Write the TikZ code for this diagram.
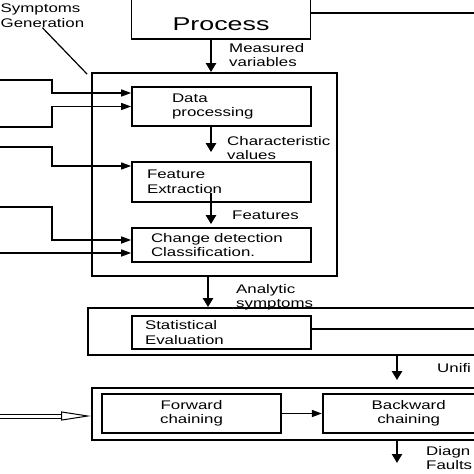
\documentclass[tikz,border=0pt]{standalone}
\usepackage{fontspec}
\setmainfont{Liberation Sans}[FakeStretch=1.35]
\newfontfamily\bigfont{Liberation Sans}[FakeStretch=1.45]
\usetikzlibrary{arrows.meta,positioning}

\begin{document}
\begin{tikzpicture}[x=1pt,y=-1pt]
% STYLES
\tikzset{
    blk/.style={rectangle, draw, line width=1.7pt, align=left, inner ysep=0pt,
    font=\fontsize{12.5}{14.5}\selectfont},
    outerbox/.style={rectangle, draw, line width=1.8pt, inner sep=0pt},
    lbl/.style={anchor=north west, align=left, inner sep=0pt,
    font=\fontsize{12.5}{14.5}\selectfont},
    flow/.style={->, line width=2.4pt, >={Triangle[length=9pt,width=10pt]}},
    inp/.style={->, line width=1.5pt, >={Triangle[length=10pt,width=7pt]}}
}
\useasboundingbox (0,0) rectangle (474,474);

% boxes
\node[blk, anchor=south, align=center, minimum width=179pt, text height=52pt,
  text depth=4pt, inner ysep=5pt, font=\bigfont\fontsize{18.5}{20}\selectfont] (proc) at (221,40) {Process};
\node[outerbox, minimum width=245pt, minimum height=203pt] (gen) at (214.5,174.5) {};
\node[blk, minimum width=179pt, minimum height=39pt, text width=99pt, inner xsep=40pt] (data) at (221.5,106.5) {Data\\processing};
\node[blk, minimum width=179pt, minimum height=40pt, text width=149pt, inner xsep=15pt] (feat) at (221.5,182) {Feature\\Extraction};
\node[blk, minimum width=179pt, minimum height=34pt, text width=141pt, inner xsep=19pt] (change) at (221.5,245) {Change detection\\Classification.};

\node[outerbox, minimum width=412pt, minimum height=47pt] (statf) at (294,331.5) {};
\node[blk, minimum width=179pt, minimum height=33pt, text width=153pt, inner xsep=13pt] (stat) at (221.5,332.5) {Statistical\\Evaluation};

\node[outerbox, minimum width=408pt, minimum height=52pt] (reason) at (296,414) {};
\node[blk, align=center, minimum width=179pt, minimum height=39pt] (fwd) at (191.5,413.5) {Forward\\chaining};
\node[blk, align=center, minimum width=172pt, minimum height=39pt, right=40pt of fwd] (bwd) {Backward\\chaining};

% labels
\node[lbl] (symg) at (0.5,4) {Symptoms\\Generation};
\node[lbl] (meas) at (229,43) {Measured\\variables};
\node[lbl] (charv) at (227,136) {Characteristic\\values};
\node[lbl] (featl) at (232,211) {Features};
\node[lbl] (anal) at (236,284) {Analytic\\symptoms};
\node[lbl] (unif) at (437,363) {Unifi};
\node[lbl] (diag) at (426,446) {Diagn\\Faults};

% free ends
\coordinate (ax) at (211,0);
\coordinate (ax2) at (208,0);
\coordinate (ax3) at (397,0);
\coordinate (out) at (397,463);
\coordinate (topr) at (474,13);
\coordinate (statr) at (474,329);
\coordinate (in1) at (0,80);
\coordinate (in2) at (0,127);
\coordinate (in3) at (0,147);
\coordinate (in4) at (0,207);
\coordinate (in5) at (0,253);
\coordinate (dbl) at (0,416);

% Draw the links between
\draw[flow] (proc.south -| ax) -- (gen.north -| ax);
\draw[flow, shorten >=9pt] (data.south -| ax) -- (feat.north -| ax);
\draw[flow, shorten <=-10pt, shorten >=3pt] (feat.south -| ax) -- (change.north -| ax);
\draw[flow] (gen.south -| ax2) -- (statf.north -| ax2);
\draw[flow, shorten >=7pt] (statf.south -| ax3) -- (reason.north -| ax3);
\draw[flow] (reason.south -| ax3) -- (out);

\draw[inp] (in1) -- ++(52,0) |- ([yshift=13.5pt]data.west);
\draw[inp] (in2) -- ++(52,0) |- (data.west);
\draw[inp] (in3) -- ++(52,0) |- ([yshift=16pt]feat.west);
\draw[inp] (in4) -- ++(52,0) |- ([yshift=5pt]change.west);
\draw[inp] (in5) -- ([yshift=-8pt]change.west);
\draw[inp] (fwd) -- (bwd);

\draw[line width=1.4pt] (proc.east |- topr) -- (topr);
\draw[line width=1.4pt] ([yshift=3.5pt]stat.east) -- (statr);
\draw[line width=1.2pt] (symg.south) -- ([shift={(-4pt,-2pt)}]gen.north west);
\draw[double, double distance=3pt, line width=1pt, -{Triangle[open, length=30pt, width=9pt]}] (dbl) -- ([yshift=-2pt]reason.west);
\end{tikzpicture}
\end{document}
